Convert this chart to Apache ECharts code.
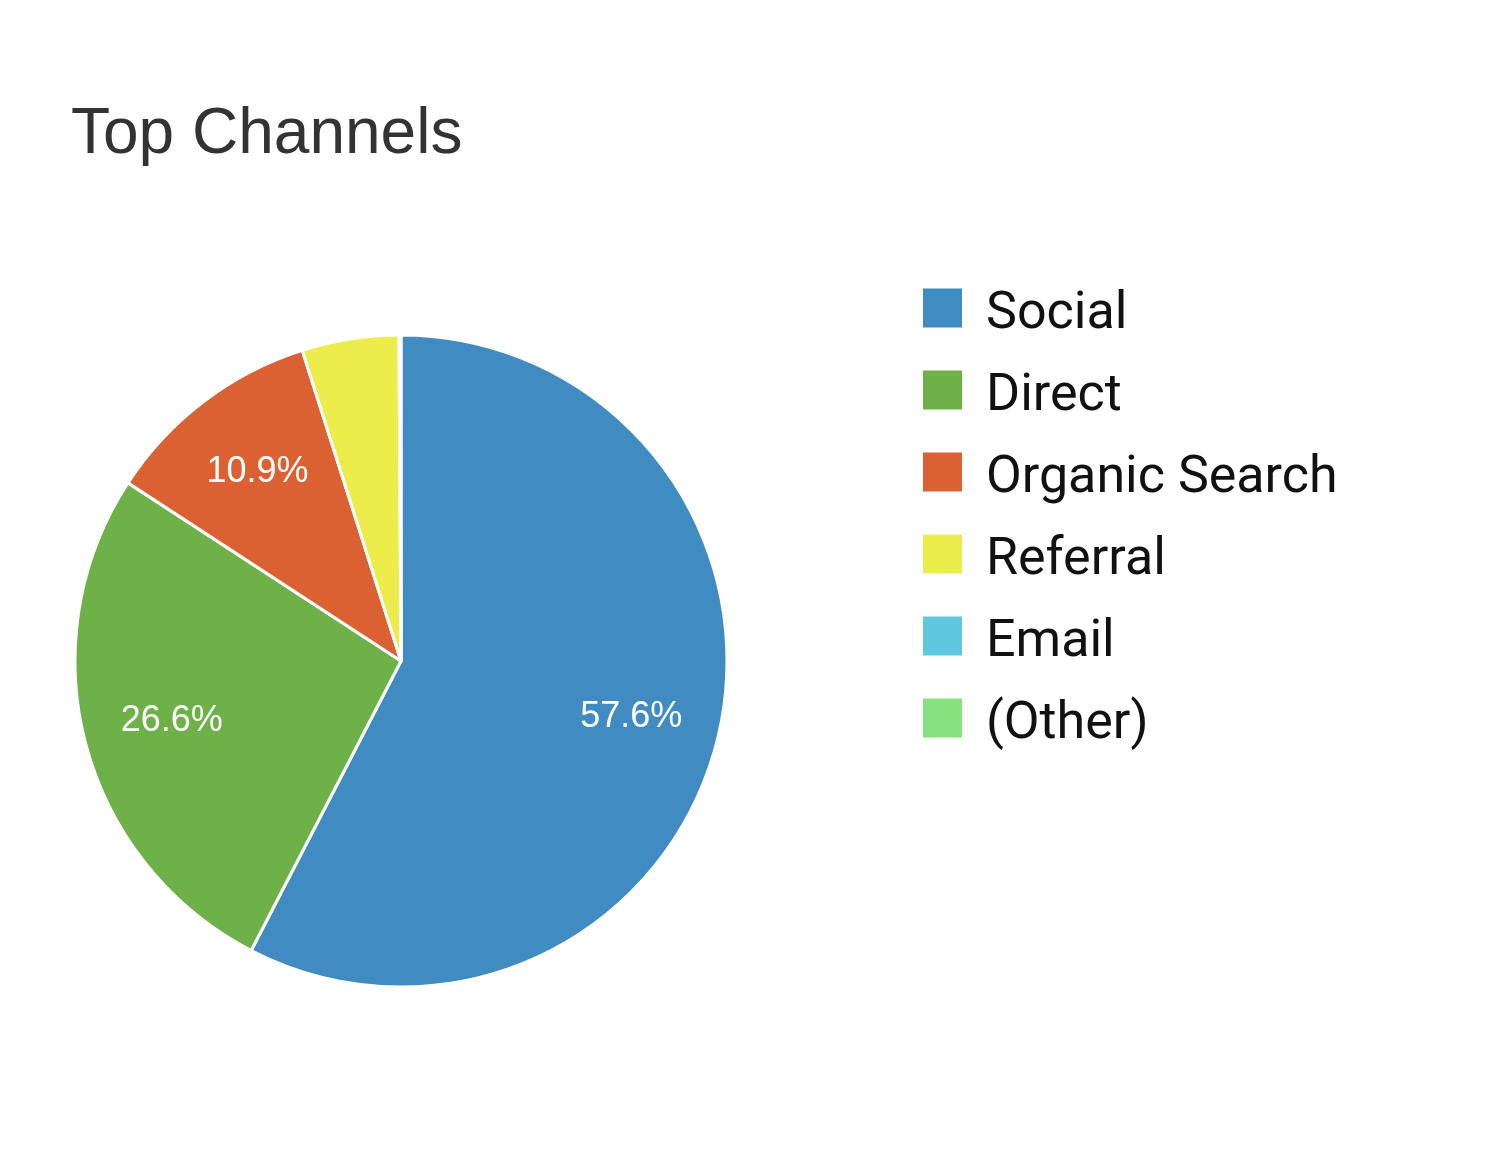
<!DOCTYPE html>
<html>
<head>
<meta charset="utf-8">
<script src="https://cdn.jsdelivr.net/npm/echarts@6/dist/echarts.min.js"></script>
<style>
html,body{margin:0;padding:0;background:#fff;}
#chart{width:1504px;height:1157px;}
</style>
</head>
<body>
<div id="chart"></div>
<script>
const categories = ['Social', 'Direct', 'Organic Search', 'Referral', 'Email', '(Other)'];
const shares = [57.6, 26.6, 10.9, 4.8, 0.07, 0.03];
const colors = ['#408bc2', '#6db148', '#db6133', '#ecec4b', '#60c8de', '#89e07f'];
const titleText = 'Top Channels';

const pieData = categories.map((name, i) => ({ name: name, value: shares[i], itemStyle: { color: colors[i] } }));
const labelData = categories.map((name, i) => ({ name: name, value: shares[i] }));

const chart = echarts.init(document.getElementById('chart'), null, { renderer: 'canvas' });
chart.setOption({
  backgroundColor: '#ffffff',
  animation: false,
  title: {
    text: titleText,
    left: 66,
    top: 98,
    textStyle: { fontFamily: 'Liberation Sans, Arial, sans-serif', fontSize: 64, fontWeight: 'normal', color: '#333333' }
  },
  legend: {
    orient: 'vertical',
    left: 916,
    top: 270,
    padding: 5,
    itemWidth: 41,
    itemHeight: 41,
    itemGap: 16,
    icon: 'rect',
    data: categories,
    formatter: '{t|{name}}',
    textStyle: {
      fontFamily: 'Roboto, sans-serif', fontSize: 52, color: '#111111', padding: [0, 0, 0, 18],
      rich: { t: { fontFamily: 'Roboto, sans-serif', fontSize: 52, color: '#111111', lineHeight: 52, padding: [14, 0, 0, 0] } }
    }
  },
  series: [
    {
      type: 'pie',
      center: [401, 661],
      radius: [0, 326],
      startAngle: 90,
      clockwise: true,
      avoidLabelOverlap: false,
      label: { show: false },
      labelLine: { show: false },
      itemStyle: { borderColor: '#ffffff', borderWidth: 3 },
      emphasis: { disabled: true },
      data: pieData
    },
    {
      type: 'pie',
      center: [401, 661],
      radius: [142, 326],
      startAngle: 90,
      clockwise: true,
      silent: true,
      legendHoverLink: false,
      avoidLabelOverlap: false,
      itemStyle: { color: 'rgba(0,0,0,0)', borderWidth: 0 },
      labelLine: { show: false },
      label: {
        show: true,
        position: 'inside',
        color: '#ffffff',
        fontFamily: 'Liberation Sans, Arial, sans-serif',
        fontSize: 36,
        formatter: function (p) { return p.value >= 5 ? p.value.toFixed(1) + '%' : ''; }
      },
      emphasis: { disabled: true },
      data: labelData,
      z: 3
    }
  ]
});
</script>
</body>
</html>
